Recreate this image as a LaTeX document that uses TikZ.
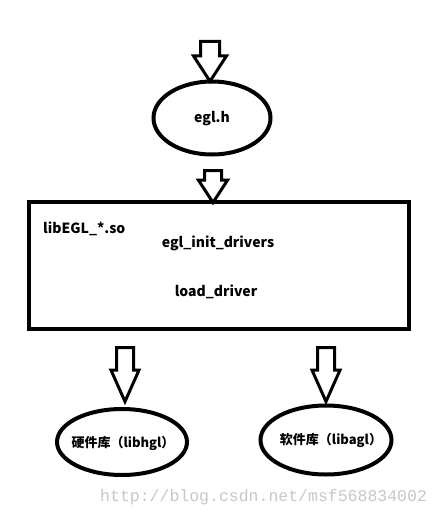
\documentclass[tikz,border=0pt]{standalone}
\usepackage{fontspec}
\setmainfont{Noto Sans CJK SC}
\newfontfamily\wmfont{Liberation Mono}
\usetikzlibrary{shapes.geometric,shapes.arrows}
\tikzset{
  blk/.style={draw, line width=3pt, single arrow, shape border rotate=270,
    single arrow head extend=7pt, single arrow tip angle=66, inner sep=8pt,
    minimum height=#1},
  oval/.style={draw, ellipse, line width=4pt, inner sep=0pt},
  lbl/.style={font=\fontsize{14}{16}\selectfont\bfseries, inner sep=0pt}
}
\begin{document}
\begin{tikzpicture}[x=1pt,y=-1pt]
\useasboundingbox (0,0) rectangle (441,519);
% top
\node[blk=40pt] (a0) at (210,54) {};
\node[oval, minimum width=117pt, minimum height=73pt] (egl) at (212,118) {};
\node[lbl] (egltext) at (212,119) {egl.h};
\node[blk=32pt, inner sep=7pt, single arrow head extend=6pt] (a1) at (213,180) {};
% library box
\node[draw, line width=4pt, minimum width=380pt, minimum height=127pt, inner sep=0pt] (lib) at (219,265.5) {};
\node[lbl, anchor=west] (libname) at (43,229) {libEGL\_*.so};
\node[lbl] (init) at (218,243) {egl\_init\_drivers};
\node[lbl] (load) at (216,292) {load\_driver};
% two branches
\node[blk=54pt, inner sep=7pt, single arrow head extend=5.5pt, single arrow tip angle=48] (a2) at (125,365) {};
\node[blk=54pt, inner sep=7pt, single arrow head extend=5.5pt, single arrow tip angle=48] (a3) at (326,365) {};
\node[oval, minimum width=130pt, minimum height=66pt] (hw) at (122,442) {};
\node[lbl, font=\fontsize{13}{15}\selectfont\bfseries] (hwtext) at (123,443) {硬件库（libhgl）};
\node[oval, minimum width=131pt, minimum height=69pt] (sw) at (326,440) {};
\node[lbl, font=\fontsize{13}{15}\selectfont\bfseries] (swtext) at (331,440) {软件库（libagl）};
% watermark
\node[anchor=west, inner sep=0pt, text=black!22, font=\wmfont\fontsize{16.5}{18}\selectfont] (wm) at (100,497) {http://blog.csdn.net/msf568834002};
\end{tikzpicture}
\end{document}
